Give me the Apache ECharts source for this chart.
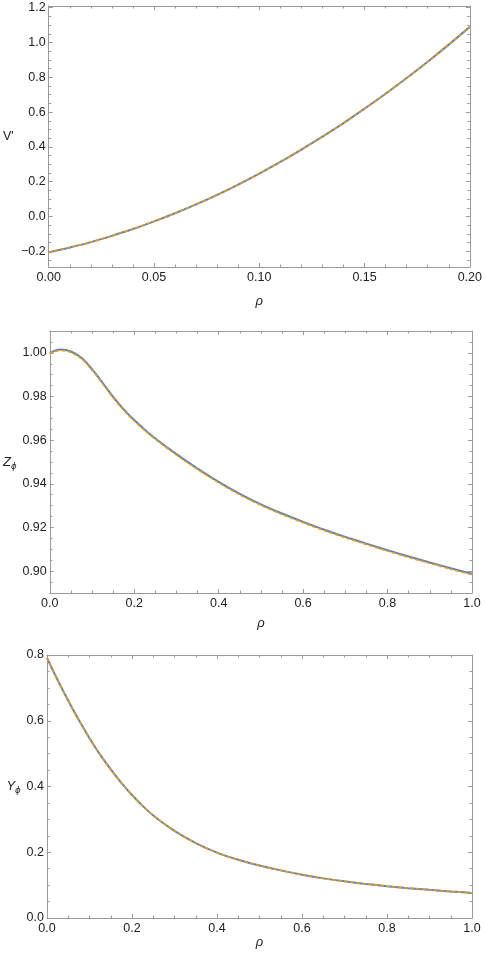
<!DOCTYPE html>
<html>
<head>
<meta charset="utf-8">
<title>V', Z_phi, Y_phi vs rho</title>
<script src="https://cdn.jsdelivr.net/npm/echarts@6/dist/echarts.min.js"></script>
<style>
  html, body { margin: 0; padding: 0; background: #fff; }
  #main { width: 485px; height: 956px; }
</style>
</head>
<body>
<div id="main"></div>
<script>
// top panel: V' against rho (0 .. 0.2)
const rhoV = [0, 0.01, 0.02, 0.03, 0.04, 0.05, 0.06, 0.07, 0.08, 0.09, 0.10,
  0.11, 0.12, 0.13, 0.14, 0.15, 0.16, 0.17, 0.18, 0.19, 0.20];
const vPrime = [-0.206, -0.178, -0.147, -0.111, -0.072, -0.028, 0.019, 0.070, 0.125, 0.184, 0.247,
  0.314, 0.385, 0.459, 0.537, 0.620, 0.706, 0.796, 0.890, 0.988, 1.090];

// middle and bottom panels: rho (0 .. 1)
const rho = [0, 0.025, 0.05, 0.075, 0.10, 0.125, 0.15, 0.175, 0.20, 0.225, 0.25,
  0.30, 0.35, 0.40, 0.45, 0.50, 0.55, 0.60, 0.65, 0.70, 0.75, 0.80, 0.85, 0.90, 0.95, 1.00];
const zPhiBlue = [1.0000, 1.0015, 1.0006, 0.9977, 0.9925, 0.9863, 0.9798, 0.9741, 0.9692, 0.9648, 0.9608,
  0.9536, 0.9470, 0.9409, 0.9354, 0.9306, 0.9264, 0.9226, 0.9190, 0.9157, 0.9126, 0.9096, 0.9067, 0.9040, 0.9013, 0.8988];
const zPhiOrange = [0.9997, 1.0011, 1.0002, 0.9973, 0.9921, 0.9859, 0.9794, 0.9737, 0.9688, 0.9644, 0.9604,
  0.9532, 0.9466, 0.9405, 0.9350, 0.9302, 0.9260, 0.9222, 0.9186, 0.9153, 0.9122, 0.9092, 0.9063, 0.9036, 0.9009, 0.8984];
const yPhi = [0.791, 0.724, 0.661, 0.602, 0.547, 0.497, 0.452, 0.411, 0.374, 0.341, 0.312,
  0.265, 0.228, 0.199, 0.177, 0.1595, 0.1448, 0.1318, 0.1205, 0.1115, 0.1035, 0.0968, 0.0908, 0.0856, 0.0808, 0.0763];

// tick values
const vxMajor = [0, 0.05, 0.10, 0.15, 0.20];
const vyMajor = [-0.2, 0, 0.2, 0.4, 0.6, 0.8, 1.0, 1.2];
const rhoMajor = [0, 0.2, 0.4, 0.6, 0.8, 1.0];
const zyMajor = [0.90, 0.92, 0.94, 0.96, 0.98, 1.00];
const yyMajor = [0, 0.2, 0.4, 0.6, 0.8];

const frame = '#9a9a9a';
const textColor = '#222';
const font = 'Liberation Sans';
const blue = '#5e81b5';
const orange = '#e19c24';

// minor ticks between min and max every step, skipping majors
function minors(min, max, step, major) {
  const out = [];
  const n0 = Math.ceil(min / step - 1e-9), n1 = Math.floor(max / step + 1e-9);
  for (let k = n0; k <= n1; k++) {
    const v = +(k * step).toFixed(6);
    if (!major.some(m => Math.abs(m - v) < 1e-9)) out.push(v);
  }
  return out;
}

function fmt(d) {
  return v => (v < -1e-12 ? '\u2212' : '') + Math.abs(v).toFixed(d);
}

const option = {
  animation: false,
  backgroundColor: '#fff',
  grid: [
    { left: 47, top: 6, width: 425, height: 261 },
    { left: 47, top: 331, width: 425, height: 262 },
    { left: 47, top: 655, width: 425, height: 263 }
  ],
  xAxis: [],
  yAxis: [],
  series: []
};

// frame side with major + minor ticks; the first side carries labels and name
function addAxes(list, gi, dimMin, dimMax, major, minor, sides, main) {
  const common = {
    gridIndex: gi, type: 'value', min: dimMin, max: dimMax,
    splitLine: { show: false }
  };
  const idx = list.length;
  sides.forEach((pos, si) => {
    list.push(Object.assign({}, common, {
      position: pos,
      axisLine: { show: true, onZero: false, lineStyle: { color: frame, width: 1 } },
      axisTick: { show: true, inside: true, length: 4, customValues: major, lineStyle: { color: frame } },
      axisLabel: si === 0 ? Object.assign({
        customValues: major, color: textColor, fontFamily: font, fontSize: 12.5
      }, main.label) : { show: false }
    }, si === 0 ? main.name : {}));
    list.push(Object.assign({}, common, {
      position: pos,
      axisLine: { show: false, onZero: false },
      axisTick: { show: true, inside: true, length: 2.5, customValues: minor, lineStyle: { color: frame } },
      axisLabel: { show: false }
    }));
  });
  return idx;
}

function panel(gi, p) {
  const xi = addAxes(option.xAxis, gi, p.xMin, p.xMax, p.xMajor,
    minors(p.xMin, p.xMax, p.xMinorStep, p.xMajor), ['bottom', 'top'], {
      label: { formatter: fmt(p.xDec), margin: 4 },
      name: {
        name: 'ρ', nameLocation: 'middle', nameGap: p.xNameGap,
        nameTextStyle: { fontFamily: font, fontStyle: 'italic', fontSize: 13, color: textColor }
      }
    });
  const yi = addAxes(option.yAxis, gi, p.yMin, p.yMax, p.yMajor,
    minors(p.yMin, p.yMax, p.yMinorStep, p.yMajor), ['left', 'right'], {
      label: { formatter: fmt(p.yDec), margin: 3 },
      name: {
        name: p.yName, nameLocation: 'middle', nameRotate: 0, nameGap: p.yNameGap,
        nameTextStyle: {
          fontFamily: font, fontSize: 12.5, color: textColor,
          rich: {
            i: { fontFamily: font, fontStyle: 'italic', fontSize: 13, color: textColor },
            s: { fontFamily: 'DejaVu Sans', fontStyle: 'italic', fontSize: 8.5, color: textColor, padding: [9, 0, 0, 0] }
          }
        }
      }
    });
  p.lines.forEach(l => {
    option.series.push({
      type: 'line', xAxisIndex: xi, yAxisIndex: yi,
      data: l.x.map((x, i) => [x, l.y[i]]),
      showSymbol: false, smooth: 0.3, clip: true,
      lineStyle: { color: l.color, width: l.width, type: l.dash || 'solid' },
      z: l.z
    });
  });
}

panel(0, {
  xMin: 0, xMax: 0.2, xMajor: vxMajor, xMinorStep: 0.01, xDec: 2, xNameGap: 28,
  yMin: -0.29, yMax: 1.21, yMajor: vyMajor, yMinorStep: 0.05, yDec: 1,
  yName: "V'", yNameGap: 35,
  lines: [
    { x: rhoV, y: vPrime, color: blue, width: 2, z: 2 },
    { x: rhoV, y: vPrime, color: orange, width: 1.6, dash: [4, 2], z: 3 }
  ]
});

panel(1, {
  xMin: 0, xMax: 1, xMajor: rhoMajor, xMinorStep: 0.05, xDec: 1, xNameGap: 24,
  yMin: 0.89, yMax: 1.01, yMajor: zyMajor, yMinorStep: 0.005, yDec: 2,
  yName: '{i|Z}{s|ϕ}', yNameGap: 33,
  lines: [
    { x: rho, y: zPhiBlue, color: blue, width: 2, z: 2 },
    { x: rho, y: zPhiOrange, color: orange, width: 1.6, dash: [4, 2], z: 3 }
  ]
});

panel(2, {
  xMin: 0, xMax: 1, xMajor: rhoMajor, xMinorStep: 0.05, xDec: 1, xNameGap: 18,
  yMin: 0, yMax: 0.8, yMajor: yyMajor, yMinorStep: 0.05, yDec: 1,
  yName: '{i|Y}{s|ϕ}', yNameGap: 22,
  lines: [
    { x: rho, y: yPhi, color: blue, width: 2, z: 2 },
    { x: rho, y: yPhi, color: orange, width: 1.6, dash: [4, 2], z: 3 }
  ]
});

const chart = echarts.init(document.getElementById('main'), null, { renderer: 'canvas' });
chart.setOption(option);
</script>
</body>
</html>
